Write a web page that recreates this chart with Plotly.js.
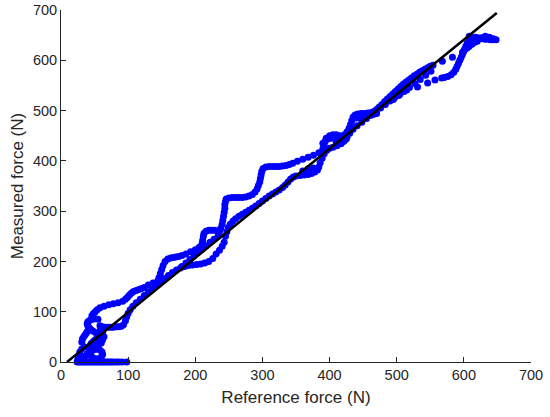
<!DOCTYPE html>
<html>
<head>
<meta charset="utf-8">
<script src="https://cdn.plot.ly/plotly-3.0.1.min.js"></script>
<style>html,body{margin:0;padding:0;background:#fff;}#chart{width:550px;height:417px;}</style>
</head>
<body>
<div id="chart"></div>
<script>
// Bottom row near zero measured force
const baseRef = [24,27,30,33,36,39,42,45,48,51,54,57,60,63,66,69,72,75,78,82,86,91,98];
const baseMeas = [0,0,0,0,0,0,0,0,0,0,0,0,0,0,0,0,0,0,0,0,0,0,0];

// Low-force cluster near the origin
const lowRef = [30,33,36,39,42,46,50,54,58,61,62,60,56,52,48,45,43,42,42,43,45,48,51,54,56,55,52,48,45,42,40,39,40,43,47,51,55,31,32,34,36,38,40,25,26,28,31,35,48,52,56,60,62,64,62,58];
const lowMeas = [4,8,12,16,20,23,25,26,24,20,15,10,7,6,8,12,17,22,27,32,37,41,44,47,51,55,58,61,64,68,72,76,80,83,85,86,85,40,46,50,54,58,62,5,12,20,26,30,30,32,35,38,44,50,58,62];

// Loading branch (above the line)
const upRefA = [46,48,51,54,58,64,71,78,85,92,96,99,102,105,108,112,116,120,124,130,137,144];
const upMeasA = [92,96,100,104,108,111,114,116,118,121,125,129,133,137,140,142,144,146,148,153,157,161];
const upRefB = [146,148,150,152,155,159,163,167,171,175,180,186,193,200,206,210,211,212,213,216,220,224,228,232,236];
const upMeasB = [168,176,184,192,200,205,207,208,209,210,212,215,219,223,228,235,242,250,256,260,262,262,262,261,259];
const upRefC = [238,240,241,242,243,244,244,245,246,250,255,260,265,270,275,280,285,289,292,294,296,297,298,299,301,305,310,315,320,325,330,335,340,345,352,360,368,376,384,390,392,394,398,403,408,413,418,422,426,429,431,433,435,438,442,447,452,457,462,466];
const upMeasC = [266,274,282,290,298,306,313,319,324,326,327,327,327,327,328,330,333,338,344,351,358,365,372,379,385,388,389,389,389,389,390,391,393,395,399,403,407,411,416,424,432,440,444,445,445,446,448,452,458,465,472,480,487,491,493,494,494,495,496,498];
const upRefD = [470,474,478,482,486,490,494,498,502,506,510,514,518,522,526,530,534,538,542,546,550,554,568,583,598,601,603,605,608,611,614,617,620,624,628,632,636,640,644,648];
const upMeasD = [502,507,512,518,523,528,533,538,543,548,553,557,561,565,569,572,576,579,582,585,588,590,598,606,616,622,628,634,638,642,645,646,645,644,643,642,642,641,641,641];

// Unloading branch (mostly below the line)
const downRefA = [644,638,632,626,620,616,612,608,604,600,598,596,594,592,590,588,585,581,576,571,567,557,546,531,515,505,497,490,483,476,469,462,455,448,441,435,430,426,422,417,411,405,400,396,392,389,386,384,382,378,373,368,362,356,350,346,342,338,334,330,325,320,315,310,305,300,295,290,285,280,275,270,265,260,256,252,249,247,245];
const downMeasA = [643,646,648,645,640,636,632,628,624,618,612,606,600,594,588,582,576,571,568,566,565,561,555,547,541,533,526,519,512,505,498,491,484,477,470,463,455,447,440,434,430,427,425,421,414,405,396,388,382,378,375,373,372,371,370,368,364,358,352,347,342,338,334,330,325,320,315,310,306,302,298,294,290,285,280,274,267,259,250];
const downRefB = [243,240,236,231,226,220,214,208,202,196,190,184,178,172,166,160,154,148,142,136,130,124,118,112,107,103,100,98,96,93,90,86,82,78,74,70,66,62,58];
const downMeasB = [238,230,222,215,206,200,197,195,194,193,192,190,187,183,178,172,166,160,153,146,139,132,125,118,111,104,97,90,82,74,71,70,70,69,69,69,69,70,72];

// Extra points: loop tops and thick blocks
const midRef = [180,186,192,198,204,210,216,222,228,234,360,368,376,606,610,614,612,608,616,620,390,395,400,405,410,415,420,425,410,415,420,440,445,450,455,460,465,470,495,503,511,519,527,535,543,551];
const midMeas = [190,197,204,211,218,224,231,238,244,250,380,384,386,626,632,636,644,648,640,638,435,445,450,452,452,450,446,444,436,438,438,485,488,488,490,490,492,494,522,530,538,546,554,562,570,578];

// Reference (ideal) line end points
const fitRef = [9,649];
const fitMeas = [0,694];

const allRef = [].concat(baseRef, lowRef, upRefA, upRefB, upRefC, upRefD, downRefA, downRefB, midRef);
const allMeas = [].concat(baseMeas, lowMeas, upMeasA, upMeasB, upMeasC, upMeasD, downMeasA, downMeasB, midMeas);

const traces = [
  {x: allRef, y: allMeas, type: 'scatter', mode: 'markers', cliponaxis: false,
   marker: {color: '#0000FF', size: 7, line: {width: 0}}, hoverinfo: 'skip'},
  {x: fitRef, y: fitMeas, type: 'scatter', mode: 'lines', cliponaxis: false,
   line: {color: '#000000', width: 2.5}, hoverinfo: 'skip'}
];

const axisCommon = {
  range: [0, 700], dtick: 100, tick0: 0, showgrid: false, zeroline: false,
  showline: true, linecolor: '#262626', linewidth: 1, mirror: false,
  ticks: 'inside', ticklen: 5, tickwidth: 1, tickcolor: '#262626',
  tickfont: {family: 'Liberation Sans, Arial, sans-serif', size: 14.5, color: '#262626'},
  fixedrange: true
};

const layout = {
  width: 550, height: 417,
  margin: {l: 61, r: 19, t: 10, b: 55},
  paper_bgcolor: '#ffffff', plot_bgcolor: '#ffffff',
  showlegend: false,
  font: {family: 'Liberation Sans, Arial, sans-serif', color: '#262626'},
  xaxis: Object.assign({}, axisCommon, {
    title: {text: 'Reference force (N)', font: {size: 17, color: '#262626'}, standoff: 8}
  }),
  yaxis: Object.assign({}, axisCommon, {
    title: {text: 'Measured force (N)', font: {size: 17, color: '#262626'}, standoff: 4}
  })
};

Plotly.newPlot('chart', traces, layout, {staticPlot: true, displayModeBar: false});
</script>
</body>
</html>
